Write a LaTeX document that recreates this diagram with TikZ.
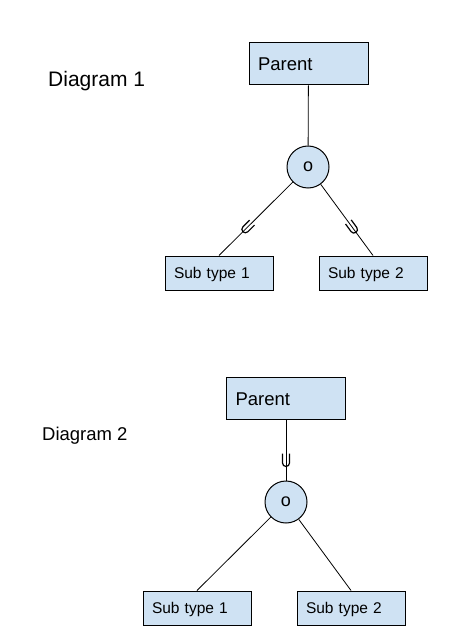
\documentclass[tikz,border=0pt]{standalone}
\usepackage{fontspec}
\setmainfont{Liberation Sans}
\usetikzlibrary{calc}

\definecolor{boxblue}{HTML}{CFE2F3}

\tikzset{
    entity/.style={draw, fill=boxblue, line width=1pt, inner xsep=9pt, inner ysep=0pt,
        align=left, text depth=0pt},
    parentbox/.style={entity, text width=101pt, minimum height=42pt, text height=13.3pt,
        font=\fontsize{18.5}{20}\selectfont},
    subbox/.style={entity, text width=90pt, minimum height=34pt, text height=11.1pt,
        font=\fontsize{15.5}{17}\selectfont},
    joint/.style={draw, circle, fill=boxblue, line width=1pt, minimum size=42pt, inner sep=0pt,
        font=\fontsize{18}{20}\selectfont},
    link/.style={line width=0.8pt},
    umark/.pic={\draw[line width=1.2pt] (-3.5pt,6.5pt) -- (-3.5pt,-3pt)
        arc[start angle=180, end angle=360, radius=3.5pt] -- (3.5pt,6.5pt);}
}

\begin{document}
\begin{tikzpicture}[x=1pt, y=-1pt]
    \useasboundingbox (0,0) rectangle (455,644);

    % diagram 1
    \node[anchor=base west, inner sep=0pt, font=\fontsize{21}{23}\selectfont] (lab1) at (48,87) {Diagram 1};
    \node[parentbox] (par1) at (308.5,64) {Parent};
    \node[joint] (dis1) at (308,167) {o};
    \node[subbox] (suba1) at (219,273) {Sub type 1};
    \node[subbox] (subb1) at (373,273) {Sub type 2};
    \draw[link] (par1) -- (dis1);
    \draw[link] (dis1) -- (suba1.north);
    \draw[link] (dis1) -- (subb1.north);
    \pic[rotate=-45] at ($(dis1)!0.68!(suba1.north)$) {umark};
    \pic[rotate=36.1] at ($(dis1)!0.68!(subb1.north)$) {umark};

    % diagram 2
    \node[anchor=base west, inner sep=0pt, font=\fontsize{18.5}{20}\selectfont] (lab2) at (42,440) {Diagram 2};
    \node[parentbox] (par2) at (286,398.5) {Parent};
    \node[joint] (dis2) at (286,502) {o};
    \node[subbox] (suba2) at (197,608) {Sub type 1};
    \node[subbox] (subb2) at (351,608) {Sub type 2};
    \draw[link] (par2) -- (dis2);
    \draw[link] (dis2) -- (suba2.north);
    \draw[link] (dis2) -- (subb2.north);
    \pic at (286,460) {umark};
\end{tikzpicture}
\end{document}
